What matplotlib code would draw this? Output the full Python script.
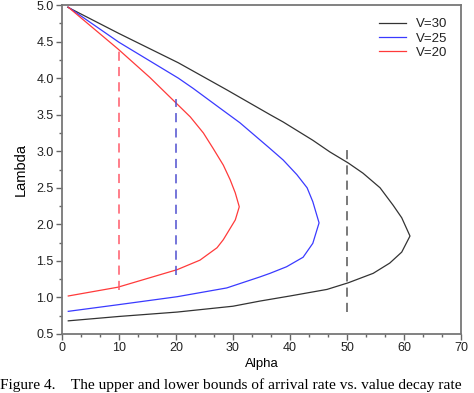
import numpy as np
import matplotlib
matplotlib.use('Agg')
import matplotlib.pyplot as plt
from matplotlib.ticker import MultipleLocator, AutoMinorLocator, FormatStrFormatter

# V=30 (upper branch out to the tip, then lower branch back)
a30_up = [1, 10, 20.4, 28.9, 36.5, 38.8, 44, 47, 50.2, 52.8, 55.8, 58.1, 59.6, 61.05]
l30_up = [4.97, 4.61, 4.21, 3.84, 3.50, 3.40, 3.15, 2.99, 2.84, 2.70, 2.50, 2.26, 2.09, 1.84]
a30_lo = [61.05, 59.6, 57.5, 54.6, 50.2, 46.5, 40, 34.7, 30, 20.2, 10, 1.1]
l30_lo = [1.84, 1.62, 1.47, 1.33, 1.20, 1.11, 1.02, 0.95, 0.88, 0.80, 0.74, 0.68]

# V=25
a25_up = [1.1, 10, 20.4, 23, 27.7, 31.2, 33, 36.3, 38.8, 41.2, 43, 44, 45.1]
l25_up = [4.97, 4.49, 4.0, 3.86, 3.59, 3.39, 3.27, 3.05, 2.88, 2.68, 2.50, 2.31, 2.02]
a25_lo = [45.1, 44, 42.3, 39.4, 36.5, 34.7, 28.9, 20.2, 9.8, 1.1]
l25_lo = [2.02, 1.74, 1.55, 1.42, 1.33, 1.28, 1.13, 1.01, 0.90, 0.81]

# V=20
a20_up = [1.1, 9.8, 15.4, 20, 22.5, 24.8, 26.5, 28.3, 29.5, 30.4, 31.1]
l20_up = [4.97, 4.40, 4.01, 3.66, 3.47, 3.25, 3.04, 2.81, 2.61, 2.43, 2.24]
a20_lo = [31.1, 30.4, 28.3, 27.2, 24.2, 20.2, 9.8, 1.1]
l20_lo = [2.24, 2.06, 1.79, 1.68, 1.51, 1.38, 1.14, 1.02]

# dashed verticals: alpha, lambda from, lambda to
dash_alpha = [10, 20, 50]
dash_low = [1.10, 1.31, 0.80]
dash_high = [4.41, 3.71, 3.02]

labels = ['V=30', 'V=25', 'V=20']
colors = ['#333333', '#3a3aff', '#ff3a3a']
dash_colors = ['#ff5a6a', '#5050d0', '#555555']

fig = plt.figure(figsize=(4.74, 3.93), dpi=100)
ax = fig.add_axes([62/474, 1 - 334/393, (461 - 62)/474, (334 - 5)/393])

curves = [(a30_up + a30_lo, l30_up + l30_lo),
          (a25_up + a25_lo, l25_up + l25_lo),
          (a20_up + a20_lo, l20_up + l20_lo)]
for (a, l), lab, c in zip(curves, labels, colors):
    ax.plot(a, l, color=c, lw=0.9, label=lab)

for x, lo, hi, c in zip(dash_alpha, dash_low, dash_high, dash_colors):
    ax.plot([x, x], [lo, hi], color=c, lw=1.1, ls=(0, (6, 4)))

ax.set_xlim(0, 70)
ax.set_ylim(0.5, 5.0)
ax.xaxis.set_major_locator(MultipleLocator(10))
ax.xaxis.set_minor_locator(AutoMinorLocator(3))
ax.yaxis.set_major_locator(MultipleLocator(0.5))
ax.yaxis.set_minor_locator(AutoMinorLocator(2))
ax.yaxis.set_major_formatter(FormatStrFormatter('%.1f'))

tick_font = ['Liberation Sans', 'DejaVu Sans']
for s in ax.spines.values():
    s.set_color('#777777')
    s.set_linewidth(1.3)
ax.tick_params(which='major', direction='out', length=4, width=1, color='#666666',
               labelsize=9, labelcolor='#222222', pad=2)
ax.tick_params(which='minor', direction='out', length=2.5, width=1, color='#666666')
for t in ax.get_xticklabels() + ax.get_yticklabels():
    t.set_fontfamily(tick_font)

ax.set_xlabel('Alpha', fontsize=9.5, family=tick_font, labelpad=3)
ax.set_ylabel('Lambda', fontsize=10.5, family=tick_font, labelpad=6)

leg = ax.legend(loc='upper right', frameon=False, handlelength=2.0,
                labelspacing=0.15, handletextpad=0.8, borderaxespad=0.6,
                prop={'family': tick_font, 'size': 9.5})
for t in leg.get_texts():
    t.set_color('#222222')

fig.text(0.0, 0.002, 'Figure 4.    The upper and lower bounds of arrival rate vs. value decay rate',
         fontsize=11.1, family=['Liberation Serif', 'DejaVu Serif'], ha='left', va='bottom')

fig.savefig('out.png', dpi=100)
